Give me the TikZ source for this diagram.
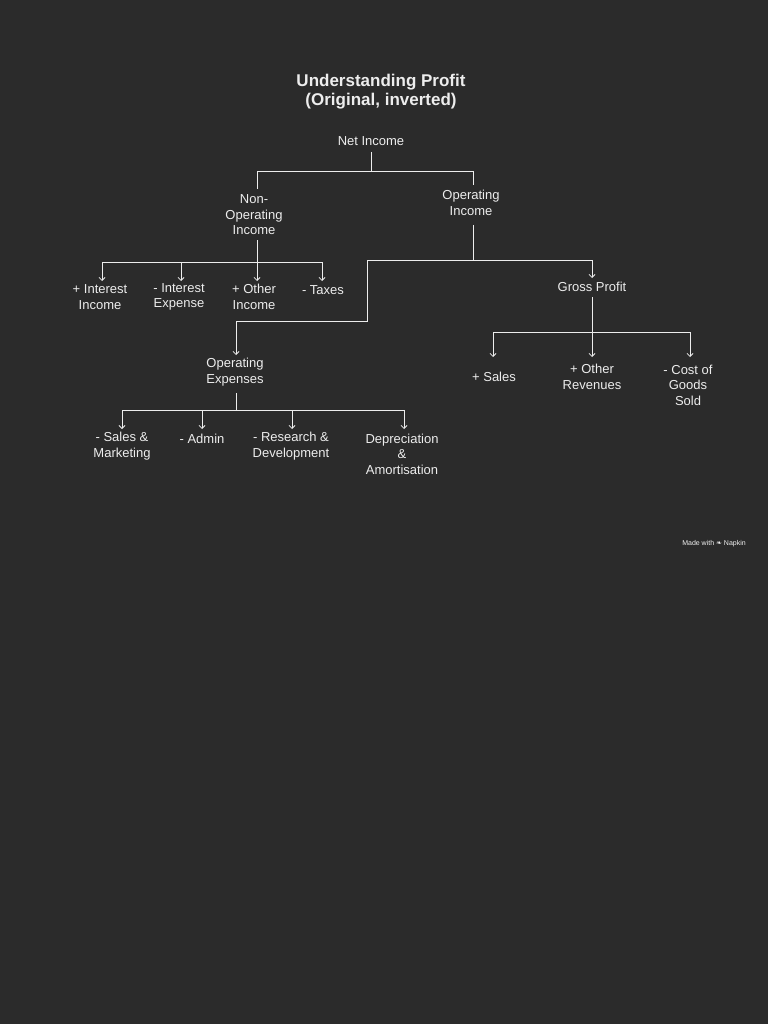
\documentclass[tikz,border=0pt]{standalone}
\usepackage{fontspec}
\setmainfont{Liberation Sans}
\usetikzlibrary{arrows.meta}
\definecolor{bg}{HTML}{2B2B2B}
\definecolor{fg}{HTML}{EDEDED}
\begin{document}
\begin{tikzpicture}[x=1pt,y=-1pt,
  lbl/.style={text=fg,align=center,font=\fontsize{13}{15.5}\selectfont,inner sep=2pt},
  conn/.style={draw=fg,line width=0.9pt},
  arr/.style={conn,-{Straight Barb[length=3pt,width=6pt,line width=0.8pt]}}]
\fill[bg] (0,0) rectangle (768,1024);
\useasboundingbox (0,0) rectangle (768,1024);
\node[text=fg,align=center,font=\bfseries\fontsize{17}{19}\selectfont] (title) at (381,92) {Understanding Profit\\(Original, inverted)};
\node[lbl] (ni) at (371,141) {Net Income};
\node[lbl] (noi) at (254,215) {Non-\\Operating\\Income};
\node[lbl] (oi) at (471,203) {Operating\\Income};
\node[lbl] (ii) at (100,297) {+ Interest\\Income};
\node[lbl] (ie) at (179,297) {- Interest\\Expense};
\node[lbl] (oth) at (254,297) {+ Other\\Income};
\node[lbl] (tax) at (323,290) {- Taxes};
\node[lbl] (gp) at (592,287) {Gross Profit};
\node[lbl] (ox) at (235,372) {Operating\\Expenses};
\node[lbl] (sal) at (494,377) {+ Sales};
\node[lbl] (orv) at (592,377) {+ Other\\Revenues};
\node[lbl] (cgs) at (688,385) {- Cost of\\Goods\\Sold};
\node[lbl] (sm) at (122,446) {- Sales \&\\Marketing};
\node[lbl] (adm) at (202,439) {- Admin};
\node[lbl] (rd) at (291,446) {- Research \&\\Development};
\node[lbl] (da) at (402,454) {Depreciation\\\&\\Amortisation};
\node[text=fg!80,font=\fontsize{7}{8}\selectfont] (mw) at (714,544) {Made with {\fontspec{DejaVu Sans}\char"2767} Napkin};
% Net income
\draw[conn] (371,152) -- (371,171);
\draw[conn] (257,189) |- (473,171) -- (473,185);
% Non-operating
\draw[conn] (257,240) -- (257,262);
\draw[conn] (102,262) -- (322,262);
\foreach \x in {102,181,257,322} \draw[arr] (\x,262) -- (\x,281);
% Operating income
\draw[conn] (473,225) -- (473,260);
\draw[conn] (367,260) -- (592,260);
\draw[arr] (592,260) -- (592,278);
\draw[conn] (367,260) |- (236,321);
\draw[arr] (236,321) -- (236,355);
% Gross profit
\draw[conn] (592,297) -- (592,332);
\draw[conn] (493,332) -- (690,332);
\foreach \x in {493,592,690} \draw[arr] (\x,332) -- (\x,357);
% Opex
\draw[conn] (236,393) -- (236,410);
\draw[conn] (122,410) -- (404,410);
\foreach \x in {122,202,292,404} \draw[arr] (\x,410) -- (\x,429);
\end{tikzpicture}
\end{document}
